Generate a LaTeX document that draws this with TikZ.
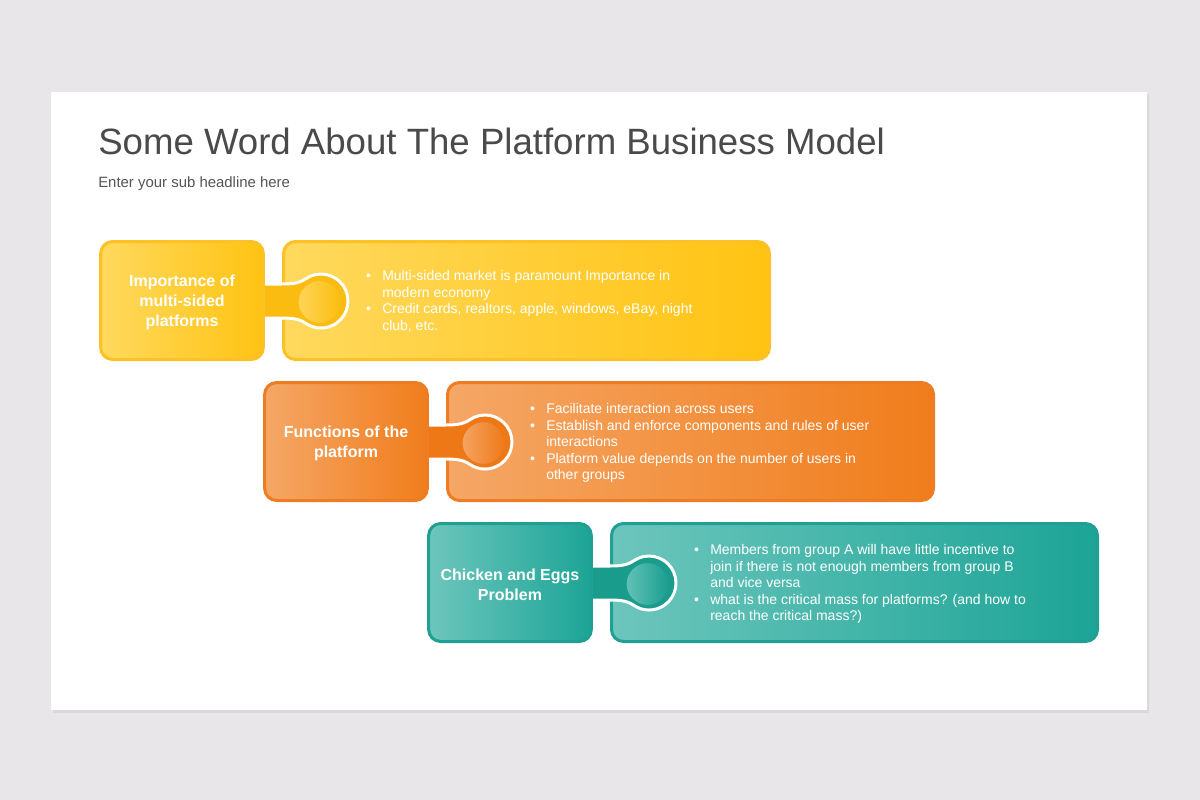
\documentclass[tikz,border=0pt]{standalone}
\usepackage{fontspec}
\setmainfont{Liberation Sans}
\definecolor{bgc}{HTML}{E8E6E8}
\definecolor{shd}{HTML}{DAD8DA}
\definecolor{ttl}{HTML}{4A4A4A}
\definecolor{sub}{HTML}{555555}
\definecolor{yA}{HTML}{FFD95E}\definecolor{yB}{HTML}{FFC312}\definecolor{yE}{HTML}{FBC125}\definecolor{yK}{HTML}{FABC10}\definecolor{yI}{HTML}{FFD458}
\definecolor{oA}{HTML}{F5A766}\definecolor{oB}{HTML}{F07D1C}\definecolor{oE}{HTML}{EE7C22}\definecolor{oK}{HTML}{EE7816}\definecolor{oI}{HTML}{F5A462}
\definecolor{tA}{HTML}{6DC6BD}\definecolor{tB}{HTML}{1CA496}\definecolor{tE}{HTML}{1FA092}\definecolor{tK}{HTML}{1A9C8D}\definecolor{tI}{HTML}{62C1B7}
\newcommand\bl{\llap{\textbullet\hspace{8.5pt}}}
\tikzset{
  lbox/.style={draw=#1E, line width=2.25pt, rounded corners=9pt, left color=#1A, right color=#1B,
     minimum width=122pt, minimum height=88.5pt, inner sep=0pt},
  ltext/.style={inner sep=0pt, text=white, align=center, font=\bfseries\fontsize{12}{15}\selectfont},
  rbox/.style={draw=#1E, line width=2.25pt, rounded corners=9pt, left color=#1A, right color=#1B,
     minimum width=364.5pt, minimum height=88.5pt, inner sep=0pt},
  knob/.style={fill=#1K, draw=white, line width=2.25pt},
  inner/.style={left color=#1I, right color=#1K!85!#1B, draw=#1K, line width=0.6pt},
  btext/.style={text=white, align=left, inner sep=0pt, anchor=west, font=\fontsize{10.5}{12.4}\selectfont},
}
\begin{document}
\begin{tikzpicture}[x=0.75pt,y=-0.75pt]
\fill[bgc] (0,0) rectangle (1200,800);
\useasboundingbox (0,0) rectangle (1200,800);
\fill[shd] (53,94) rectangle (1149,713);
\fill[white] (51,92) rectangle (1147,710);
\node[anchor=base west, inner sep=0pt, text=ttl, font=\fontsize{27.45}{30}\selectfont] (title) at (98,154) {Some Word About The Platform Business Model};
\node[anchor=base west, inner sep=0pt, text=sub, font=\fontsize{11.2}{13}\selectfont] (subt) at (98,187) {Enter your sub headline here};
% row 1
\begin{scope}
\node[rbox=y] (r1) at (526.5,300.5) {};
\path[knob=y] (200,284) -- (281,284) .. controls (291,284) and (298.9,283.5) .. (305.5,278.9) arc (-125:125:27) .. controls (298.9,318.5) and (291,318) .. (281,318) -- (200,318) -- cycle;
\node[circle, minimum size=32pt, inner sep=0pt, inner=y] (k1) at (319.5,302) {};
\node[lbox=y] (l1) at (182,300.5) {};
\node[ltext] (lt1) at (182,302.5) {Importance of\\multi-sided\\platforms};
\node[btext] (t1) at (382,301.5) {\bl Multi-sided market is paramount Importance in\\modern economy\\\bl Credit cards, realtors, apple, windows, eBay, night\\club, etc.};
\end{scope}
% row 2
\begin{scope}[shift={(164,141)}]
\node[rbox=o] (r2) at (526.5,300.5) {};
\path[knob=o] (200,284) -- (281,284) .. controls (291,284) and (298.9,283.5) .. (305.5,278.9) arc (-125:125:27) .. controls (298.9,318.5) and (291,318) .. (281,318) -- (200,318) -- cycle;
\node[circle, minimum size=32pt, inner sep=0pt, inner=o] (k2) at (319.5,302) {};
\node[lbox=o] (l2) at (182,300.5) {};
\node[ltext] (lt2) at (182,302.5) {Functions of the\\platform};
\node[btext] (t2) at (382,302) {\bl Facilitate interaction across users\\\bl Establish and enforce components and rules of user\\interactions\\\bl Platform value depends on the number of users in\\other groups};
\end{scope}
% row 3
\begin{scope}[shift={(328,282)}]
\node[rbox=t] (r3) at (526.5,300.5) {};
\path[knob=t] (200,284) -- (281,284) .. controls (291,284) and (298.9,283.5) .. (305.5,278.9) arc (-125:125:27) .. controls (298.9,318.5) and (291,318) .. (281,318) -- (200,318) -- cycle;
\node[circle, minimum size=32pt, inner sep=0pt, inner=t] (k3) at (319.5,302) {};
\node[lbox=t] (l3) at (182,300.5) {};
\node[ltext] (lt3) at (182,303) {Chicken and Eggs\\Problem};
\node[btext] (t3) at (382,302) {\bl Members from group A will have little incentive to\\join if there is not enough members from group B\\and vice versa\\\bl what is the critical mass for platforms? (and how to\\reach the critical mass?)};
\end{scope}
\end{tikzpicture}
\end{document}
